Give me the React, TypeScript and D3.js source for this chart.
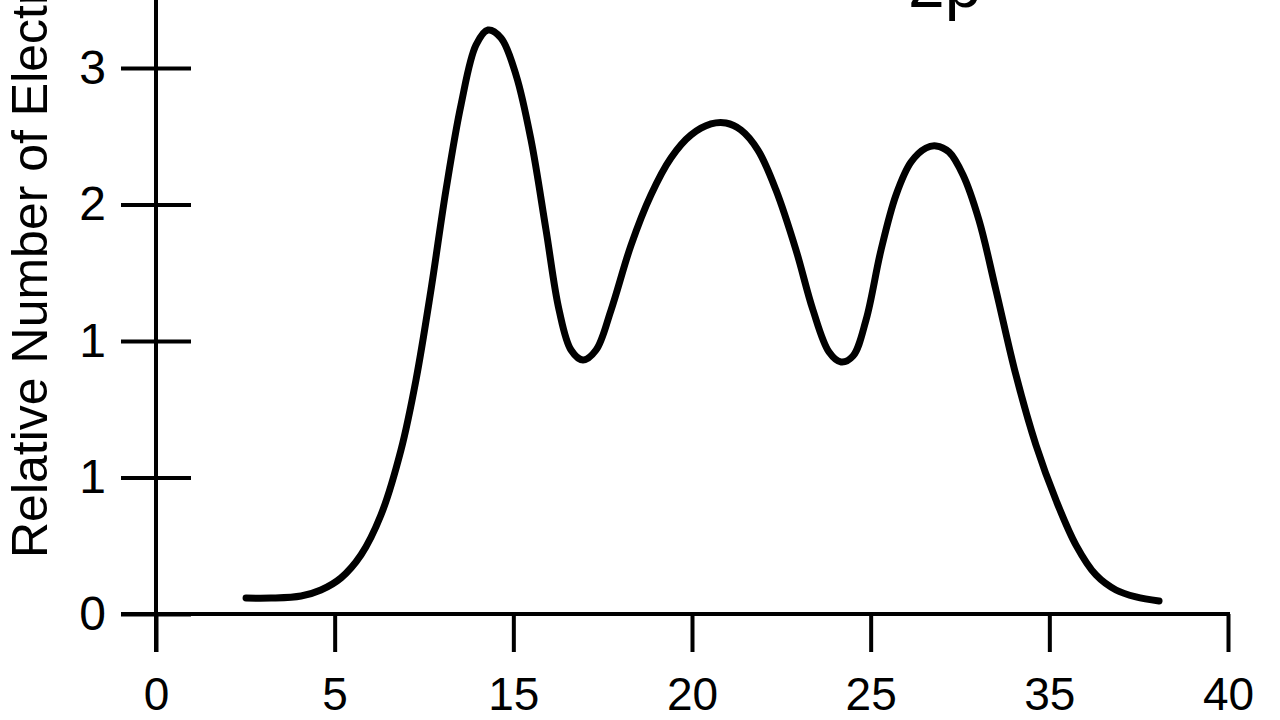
import * as d3 from 'd3'
import {useEffect, useRef} from 'react'

// tick labels as printed on the figure (evenly spaced positions)
const xTickLabels = ['0', '5', '15', '20', '25', '35', '40']
const yTickLabels = ['0', '1', '1', '2', '3']

// curve, in tick-position units
const curveX = [
  0.504, 0.644, 0.812, 0.923, 1.035, 1.147, 1.259, 1.371, 1.455, 1.539, 1.623, 1.707, 1.791, 1.858, 1.931, 2.015,
  2.099, 2.183, 2.256, 2.323, 2.39, 2.463, 2.547, 2.659, 2.77, 2.882, 2.994, 3.106, 3.19, 3.274, 3.369, 3.47, 3.582,
  3.677, 3.767, 3.834, 3.901, 3.974, 4.058, 4.142, 4.226, 4.31, 4.366, 4.438, 4.517, 4.606, 4.701, 4.813, 4.925,
  5.037, 5.149, 5.261, 5.373, 5.485, 5.614,
]
const curveY = [
  0.117, 0.117, 0.132, 0.176, 0.264, 0.432, 0.725, 1.201, 1.714, 2.374, 3.106, 3.729, 4.168, 4.278, 4.22, 3.949,
  3.473, 2.813, 2.227, 1.934, 1.861, 1.934, 2.227, 2.703, 3.07, 3.341, 3.509, 3.59, 3.597, 3.546, 3.399, 3.106,
  2.667, 2.227, 1.919, 1.846, 1.89, 2.154, 2.667, 3.07, 3.311, 3.414, 3.429, 3.385, 3.216, 2.886, 2.374, 1.751,
  1.238, 0.835, 0.505, 0.286, 0.176, 0.125, 0.095,
]

const title = '2p'
const yTitle = 'Relative Number of Electrons'

const font = '"Liberation Sans", Arial, Helvetica, sans-serif'

export default function App() {
  const ref = useRef<SVGSVGElement>(null)

  useEffect(() => {
    const svg = d3.select(ref.current)
    svg.selectAll('*').remove()

    const x = d3.scaleLinear().domain([0, 6]).range([156, 1228])
    const y = d3.scaleLinear().domain([0, 4]).range([614, 68])

    // axis lines
    svg
      .append('line')
      .attr('x1', x(0))
      .attr('x2', x(0))
      .attr('y1', 0)
      .attr('y2', y(0) + 38)
      .attr('stroke', '#000')
      .attr('stroke-width', 4)
    svg
      .append('line')
      .attr('x1', x(0) - 35)
      .attr('x2', x(6) + 2)
      .attr('y1', y(0))
      .attr('y2', y(0))
      .attr('stroke', '#000')
      .attr('stroke-width', 4)

    const xAxis = d3
      .axisBottom(x)
      .tickValues(d3.range(xTickLabels.length))
      .tickFormat(i => xTickLabels[i as number])
      .tickSize(38)
      .tickPadding(25)
    const gx = svg.append('g').attr('transform', 'translate(0,' + y(0) + ')').call(xAxis)
    gx.select('.domain').remove()
    gx.selectAll('.tick line').attr('stroke', '#000').attr('stroke-width', 4)
    gx.selectAll('.tick text').attr('fill', '#000').style('font-family', font).style('font-size', '46px')

    const yAxis = d3
      .axisLeft(y)
      .tickValues(d3.range(yTickLabels.length))
      .tickFormat(i => yTickLabels[i as number])
      .tickSize(35)
      .tickPadding(15)
    const gy = svg.append('g').attr('transform', 'translate(' + x(0) + ',0)').call(yAxis)
    gy.select('.domain').remove()
    gy.selectAll('.tick line').attr('x1', 35).attr('x2', -35).attr('stroke', '#000').attr('stroke-width', 4)
    gy.selectAll('.tick text').attr('fill', '#000').style('font-family', font).style('font-size', '48px')

    const line = d3
      .line<number>()
      .x(i => x(curveX[i]))
      .y(i => y(curveY[i]))
      .curve(d3.curveCatmullRom.alpha(0.5))
    svg
      .append('path')
      .datum(d3.range(curveX.length))
      .attr('d', line)
      .attr('fill', 'none')
      .attr('stroke', '#000')
      .attr('stroke-width', 7)
      .attr('stroke-linecap', 'round')
      .attr('stroke-linejoin', 'round')

    svg
      .append('text')
      .attr('x', 908)
      .attr('y', 7)
      .style('font-family', font)
      .style('font-size', '66px')
      .text(title)

    svg
      .append('text')
      .attr('transform', 'translate(47,558) rotate(-90)')
      .style('font-family', font)
      .style('font-size', '50px')
      .text(yTitle)
  }, [])

  return (
    <svg
      ref={ref}
      width={1280}
      height={720}
      style={{position: 'absolute', left: 0, top: 0, background: '#fff'}}
    />
  )
}
